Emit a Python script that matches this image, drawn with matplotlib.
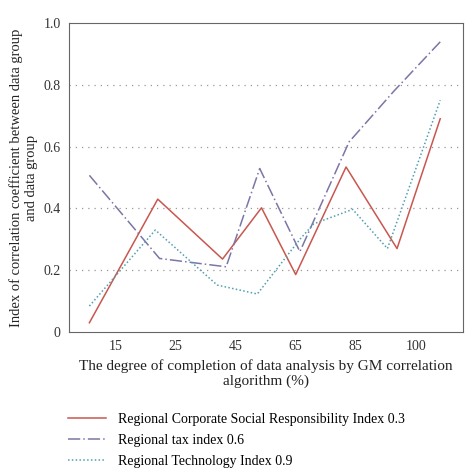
import matplotlib
matplotlib.use("Agg")
import matplotlib.pyplot as plt

tick_labels = ["15", "25", "45", "65", "85", "100"]
x_csr = [-0.44, 0.70, 1.78, 2.43, 3.0, 3.84, 4.69, 5.41]
y_csr = [0.03, 0.43, 0.236, 0.402, 0.186, 0.534, 0.27, 0.69]
x_tax = [-0.44, 0.73, 1.84, 2.40, 3.07, 3.89, 4.64, 5.41]
y_tax = [0.507, 0.238, 0.211, 0.529, 0.26, 0.615, 0.78, 0.939]
x_tech = [-0.44, 0.66, 1.69, 2.36, 3.07, 3.3, 3.95, 4.53, 5.41]
y_tech = [0.084, 0.33, 0.152, 0.123, 0.30, 0.35, 0.397, 0.27, 0.75]

plt.rcParams['font.family'] = ['Liberation Serif', 'DejaVu Serif']
fig = plt.figure(figsize=(4.74, 4.74), dpi=100)
ax = fig.add_axes([69/474, 1-332/474, (463-69)/474, (332-23)/474])
ax.plot(x_csr, y_csr, color="#c8574f", lw=1.1, label="Regional Corporate Social Responsibility Index 0.3")
ax.plot(x_tax, y_tax, color="#7a76a6", lw=1.1, ls=(0, (8, 2, 1, 2)), label="Regional tax index 0.6")
ax.plot(x_tech, y_tech, color="#4f9fb0", lw=1.1, ls=(0, (1, 1.5)), label="Regional Technology Index 0.9")
ax.set_xlim(-0.78, 5.79)
ax.set_ylim(0, 1.0)
ax.set_xticks(range(len(tick_labels)))
ax.set_xticklabels(tick_labels)
ax.set_yticks([0, 0.2, 0.4, 0.6, 0.8, 1.0])
ax.set_yticklabels(["0", "0.2", "0.4", "0.6", "0.8", "1.0"])
ax.tick_params(length=0, labelsize=10, colors="#333333", pad=6)
for y in [0.2, 0.4, 0.6, 0.8]:
    ax.axhline(y, color="#999999", ls=(0, (1, 4)), lw=0.9)
for s in ax.spines.values():
    s.set_color("#666666")
ax.set_xlabel("The degree of completion of data analysis by GM correlation\nalgorithm (%)", fontsize=11, color="#222222")
ax.set_ylabel("Index of correlation coefficient between data group\nand data group", fontsize=10.5, color="#222222")
fig.legend(loc="upper left", bbox_to_anchor=(55/474, 1-400/474), frameon=False,
           fontsize=10, handlelength=2.8, labelspacing=0.6)
fig.savefig("out.png", dpi=100)
